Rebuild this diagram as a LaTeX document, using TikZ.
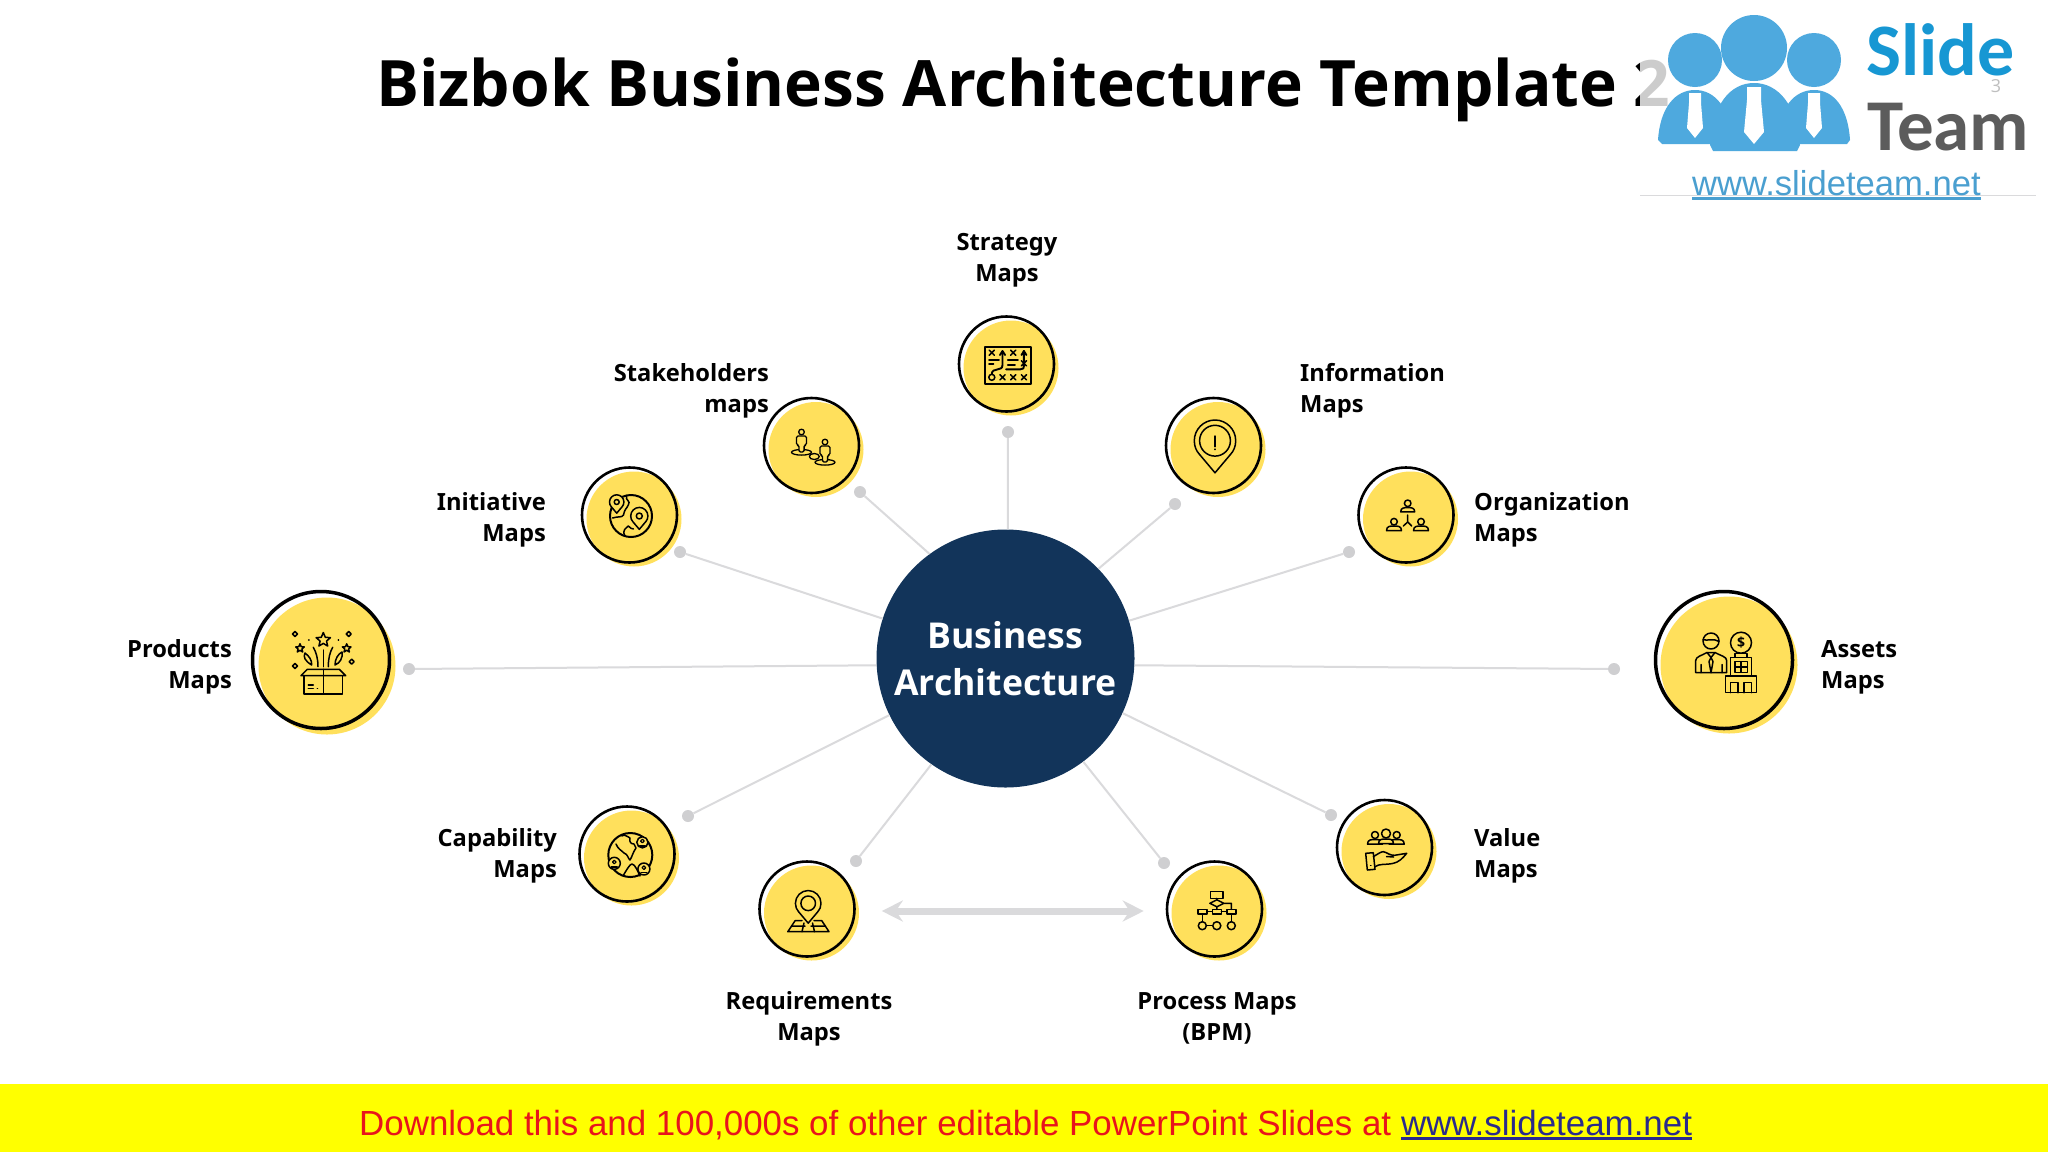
\documentclass[tikz,border=0pt]{standalone}
\usepackage{fontspec}
\setmainfont{Open Sans}[RawFeature={+ss01}]
\newfontfamily\arialfont{Liberation Sans}
\newfontfamily\logofont{Carlito}
\usetikzlibrary{positioning,arrows.meta}
\definecolor{mapyellow}{HTML}{FFE05C}
\definecolor{archblue}{HTML}{12345A}
\definecolor{spokegray}{HTML}{DADADC}
\definecolor{logoblue}{HTML}{4EA9DE}
\definecolor{slideblue}{HTML}{1797D3}
\definecolor{teamgray}{HTML}{5C5C5C}
\definecolor{linkblue}{HTML}{4A9FD0}
\definecolor{bannerred}{HTML}{E8141C}
\definecolor{bannerblue}{HTML}{2A2A8C}
\definecolor{banneryellow}{HTML}{FFFF00}
\tikzset{%
	bigfill/.style={circle, fill=mapyellow, minimum size=137pt, inner sep=0pt},
	bigring/.style={circle, draw=black, line width=3.5pt, minimum size=137pt, inner sep=0pt},
	smallfill/.style={circle, fill=mapyellow, minimum size=95pt, inner sep=0pt},
	smallring/.style={circle, draw=black, line width=2.6pt, minimum size=95pt, inner sep=0pt},
	spokedot/.style={circle, fill=spokegray!95!black, minimum size=12pt, inner sep=0pt},
	spoke/.style={draw=spokegray, line width=2pt},
	maplabel/.style={font=\fontsize{23.7}{31}\selectfont\bfseries, text=black, inner sep=0pt},
	iconline/.style={draw=black, line width=1.5pt, line join=round, line cap=round},
	logotext/.style={inner sep=0pt, anchor=base west}
}
% icon helpers, all in pixels around the ring centre
\newcommand{\pinmark}[3]{%
	\draw[iconline, fill=mapyellow, shift={(#1,#2)}, scale=#3] (0,-1) .. controls (.55,-1) and (1,-.55) .. (1,0) .. controls (1,.28) and (.9,.5) .. (.75,.66) -- (0,1.55) -- (-.75,.66) .. controls (-.9,.5) and (-1,.28) .. (-1,0) .. controls (-1,-.55) and (-.55,-1) .. (0,-1) -- cycle;}
\newcommand{\starmark}[3]{%
	\draw[iconline, shift={(#1,#2)}] (-90:#3) -- (-54:.45*#3) -- (-18:#3) -- (18:.45*#3) -- (54:#3) -- (90:.45*#3) -- (126:#3) -- (162:.45*#3) -- (198:#3) -- (234:.45*#3) -- cycle;}
\newcommand{\sparkmark}[3]{%
	\draw[iconline, shift={(#1,#2)}] (0,-#3) -- (#3,0) -- (0,#3) -- (-#3,0) -- cycle;}
\newcommand{\crossmark}[2]{%
	\draw[iconline, shift={(#1,#2)}] (-2.6,-2.6) -- (2.6,2.6) (-2.6,2.6) -- (2.6,-2.6);}
\newcommand{\bustmark}[4]{% x, y of head, head radius, half width
	\draw[iconline, shift={(#1,#2)}, fill=mapyellow] (0,0) circle (#3pt);
	\draw[iconline, shift={(#1,#2)}, fill=mapyellow] (-#4,#3+#4*.75) .. controls (-#4,#3+1) and (-#4*.5,#3+1) .. (0,#3+1) .. controls (#4*.5,#3+1) and (#4,#3+1) .. (#4,#3+#4*.75) -- cycle;}
\newcommand{\standmark}[2]{% x, y of head
	\draw[iconline, line width=1.3pt, shift={(#1,#2)}] (0,0) circle (2.8pt);
	\draw[iconline, line width=1.3pt, shift={(#1,#2)}] (0,20.3) ellipse [x radius=10pt, y radius=2.8pt];
	\draw[iconline, line width=1.3pt, shift={(#1,#2)}, fill=mapyellow, rounded corners=1.5pt] (-2.6,20) -- (-2.6,13) -- (-5,13) -- (-5,4) -- (5,4) -- (5,13) -- (2.6,13) -- (2.6,20) -- cycle;}
\newcommand{\ulined}[3]{\setbox0\hbox{#3}\rlap{\rule[-#1]{\wd0}{#2}}\box0}
\begin{document}
\begin{tikzpicture}[x=1pt, y=-1pt]
	\useasboundingbox (0,0) rectangle (2048,1152);
	\fill[white] (0,0) rectangle (2048,1152);

	% title, the logo panel goes over its last figure
	\node[font=\fontsize{64}{70}\selectfont\bfseries, anchor=base west, inner sep=0pt] (title) at (376,106) {Bizbok Business Architecture Template 2};

	% hub
	\node[circle, fill=archblue, minimum size=258pt, inner sep=0pt, align=center, text=white, font=\fontsize{35.6}{47}\selectfont\bfseries] (arch) at (1005.5,658.5) {Business\\Architecture};

	% dots
	\node[spokedot] (stratdot) at (1008,432) {};
	\node[spokedot] (stakedot) at (860,492) {};
	\node[spokedot] (infodot) at (1175,504) {};
	\node[spokedot] (initdot) at (680,552) {};
	\node[spokedot] (orgdot) at (1349,552) {};
	\node[spokedot] (proddot) at (409,669) {};
	\node[spokedot] (assetdot) at (1614,669) {};
	\node[spokedot] (capdot) at (688,816) {};
	\node[spokedot] (valdot) at (1331,815) {};
	\node[spokedot] (reqdot) at (856,861) {};
	\node[spokedot] (procdot) at (1164,863) {};

	% spokes
	\draw[spoke] (stratdot) -- (arch.89);
	\draw[spoke] (stakedot) -- (arch.126);
	\draw[spoke] (infodot) -- (arch.44);
	\draw[spoke] (initdot) -- (arch.162);
	\draw[spoke] (orgdot) -- (arch.17);
	\draw[spoke] (proddot) -- (arch.183);
	\draw[spoke] (assetdot) -- (arch.357);
	\draw[spoke] (capdot) -- (arch.206);
	\draw[spoke] (valdot) -- (arch.335);
	\draw[spoke] (reqdot) -- (arch.235);
	\draw[spoke] (procdot) -- (arch.307);

	% circles
	\node[bigfill] (prodfill) at (327,666) {};
	\node[bigring] (prod) at (321,660) {};
	\node[bigfill] (assetfill) at (1729,665) {};
	\node[bigring] (asset) at (1724,660) {};
	\node[smallfill] (stratfill) at (1011,368) {};
	\node[smallring] (strat) at (1006.5,364) {};
	\node[smallfill] (stakefill) at (816,449.5) {};
	\node[smallring] (stake) at (811.5,445.5) {};
	\node[smallfill] (infofill) at (1218,449.5) {};
	\node[smallring] (info) at (1213.5,445.5) {};
	\node[smallfill] (initfill) at (634,519) {};
	\node[smallring] (init) at (629.5,515) {};
	\node[smallfill] (orgfill) at (1410.5,519) {};
	\node[smallring] (org) at (1406,515) {};
	\node[smallfill] (capfill) at (631.5,858) {};
	\node[smallring] (cap) at (627,854) {};
	\node[smallfill] (valfill) at (1389,851.5) {};
	\node[smallring] (val) at (1384.5,847.5) {};
	\node[smallfill] (reqfill) at (811.5,913) {};
	\node[smallring] (req) at (807,909) {};
	\node[smallfill] (procfill) at (1219,913) {};
	\node[smallring] (proc) at (1214.5,909) {};

	% arrow between the two lower circles
	\draw[{Stealth[length=21pt,width=21pt,inset=7pt]}-{Stealth[length=21pt,width=21pt,inset=7pt]}, draw=spokegray, line width=7pt, shorten <=26pt, shorten >=22pt] ([yshift=-2pt]req.east) -- ([yshift=-2pt]proc.west);

	% labels
	\node[maplabel, align=center] (stratlabel) at (1007,260) {Strategy\\Maps};
	\node[maplabel, align=right, anchor=east] (stakelabel) at (769,391) {Stakeholders\\maps};
	\node[maplabel, align=left, anchor=west] (infolabel) at (1300,391) {Information\\Maps};
	\node[maplabel, align=right, anchor=east] (initlabel) at (546,520) {Initiative\\Maps};
	\node[maplabel, align=left, anchor=west] (orglabel) at (1474,520) {Organization\\Maps};
	\node[maplabel, align=right, anchor=east] (prodlabel) at (232,667) {Products\\Maps};
	\node[maplabel, align=left, anchor=west] (assetlabel) at (1821,667) {Assets\\Maps};
	\node[maplabel, align=right, anchor=east] (caplabel) at (557,856) {Capability\\Maps};
	\node[maplabel, align=left, anchor=west] (vallabel) at (1474,856) {Value\\Maps};
	\node[maplabel, align=center] (reqlabel) at (809,1019) {Requirements\\Maps};
	\node[maplabel, align=center] (proclabel) at (1217,1018) {Process Maps\\(BPM)};

	% gift box
	\begin{scope}[shift={(321,660)}]
		\draw[iconline] (-17,15.7) rectangle (21.7,34);
		\draw[iconline] (-20,15.7) -- (-13.7,9.3) -- (18.3,9.3) -- (24.7,15.7) -- cycle;
		\draw[iconline] (2.3,9.3) -- (2.3,34);
		\draw[iconline] (-12.7,25) -- (-7.7,25) (-12.7,28.3) -- (-7.7,28.3) (-3.7,28.3) -- (-3.4,28.3);
		\starmark{2.3}{-20}{7.5}
		\starmark{-21}{-11.7}{4.5}
		\starmark{25.7}{-11.7}{4.5}
		\sparkmark{-26}{-26}{2.5}
		\sparkmark{27.7}{-26}{2.5}
		\sparkmark{-26}{6}{2.5}
		\sparkmark{30.7}{1.7}{2.5}
		\draw[iconline] (-12.3,-20) -- (-12,-20) (17.3,-20) -- (17.6,-20) (2.3,-10) -- (2.3,6.7);
		\draw[iconline] (-3,6.7) .. controls (-3,-2) and (-5,-8) .. (-7.7,-12.7);
		\draw[iconline] (7.3,6.7) .. controls (7.3,-2) and (9,-8) .. (11.7,-12.7);
		\draw[iconline] (-9.3,5) .. controls (-16,1) and (-18,-3) .. (-16,-7) .. controls (-12,-4) and (-9,0) .. (-9.3,5);
		\draw[iconline] (14,5) .. controls (14,-1) and (17,-6) .. (21,-8) .. controls (22,-2) and (19,3) .. (14,5);
	\end{scope}

	% strategy board
	\begin{scope}[shift={(1006.5,364)}]
		\draw[iconline, line width=2.2pt] (-21.5,-17.3) rectangle (24.2,20);
		\crossmark{-14.7}{-11.3}
		\crossmark{6.7}{-11.3}
		\crossmark{17.4}{-0.7}
		\crossmark{-4}{13.3}
		\crossmark{6.7}{13.3}
		\crossmark{17.4}{13.3}
		\draw[iconline] (-14.7,13.3) circle (3pt);
		\draw[iconline, line width=1.9pt] (-14.7,10) .. controls (-14.7,3) and (-4,8) .. (-4,1) -- (-4,-12);
		\draw[iconline, line width=1.9pt] (-6.5,-9) -- (-4,-13) -- (-1.5,-9);
		\draw[iconline, line width=1.9pt] (-0.5,5.3) -- (14,5.3) .. controls (17,5.3) and (17.4,4) .. (17.4,2) -- (17.4,-13);
		\draw[iconline, line width=1.9pt] (15,-9) -- (17.4,-13) -- (19.9,-9);
		\draw[iconline, line width=1.9pt] (-17.5,-4) -- (-7.5,-4) (-17.5,0) -- (-13,0) (1.4,-4) -- (11.4,-4) (1.4,1) -- (8.5,1);
	\end{scope}

	% stakeholders
	\begin{scope}[shift={(811.5,445.5)}]
		\draw[iconline, line width=1.3pt] (2.8,11) ellipse [x radius=5pt, y radius=3pt];
		\standmark{-10}{-13.5}
		\standmark{13.5}{-3.5}
	\end{scope}

	% information pin
	\begin{scope}[shift={(1213.5,445.5)}]
		\pinmark{1.5}{-4.8}{20.7}
		\draw[iconline] (1.5,-4.8) circle (15.4pt);
		\draw[iconline] (1.5,-9.5) -- (1.5,1.2) (1.5,3.6) -- (1.5,4);
	\end{scope}

	% globe with two pins
	\begin{scope}[shift={(629.5,515)}]
		\draw[iconline, line width=2pt] (1.5,1) circle (21pt);
		\draw[iconline] (-2.8,-19) .. controls (-5,-15) and (2,-14) .. (-1.2,-10) .. controls (-3,-6) and (-5,-6) .. (-6,0) .. controls (-8,3) and (-11,1) .. (-17,3);
		\draw[iconline] (-4.5,21) .. controls (-8,15) and (-3,13) .. (-1.2,11) .. controls (1,12) and (2,15) .. (4,14);
		\pinmark{-12.8}{-13}{7.2}
		\draw[iconline] (-12.8,-13) circle (2.5pt);
		\pinmark{9.8}{1}{8.6}
		\draw[iconline] (9.8,1) circle (3pt);
	\end{scope}

	% organization
	\begin{scope}[shift={(1406,515)}]
		\bustmark{1.7}{-11.7}{3.3}{7}
		\bustmark{-12}{6.7}{3.3}{7.5}
		\bustmark{15}{6.7}{3.3}{7.5}
		\draw[iconline] (1.7,0) -- (1.7,7) -- (-2.7,11) (1.7,7) -- (5.7,11);
	\end{scope}

	% assets
	\begin{scope}[shift={(1724,660.5)}]
		\draw[iconline] (-13,-19.5) circle (8pt);
		\draw[iconline] (-21,-21) .. controls (-17,-19) and (-11,-23) .. (-5,-19);
		\draw[iconline] (-28.3,12.2) -- (-28.3,0) .. controls (-28.3,-4) and (-22,-5) .. (-17,-8) -- (-9,-8) .. controls (-4,-5) and (2.7,-4) .. (2.7,0) -- (2.7,12.2) -- cycle;
		\draw[iconline] (-17,-8) -- (-13,-3) -- (-9,-8) (-13,-3) -- (-15,1) -- (-13,12.2) -- (-11,1) -- (-13,-3) (-23,4) -- (-23,12.2) (-2,4) -- (-2,12.2);
		\draw[iconline] (17,-17.8) circle (10.5pt);
		\node[font=\fontsize{14}{14}\selectfont\bfseries, inner sep=0pt] (coin) at (17,-17.8) {\$};
		\draw[iconline] (11,-7.2) rectangle (23,-3) (6.7,-3) rectangle (27.7,15.5);
		\draw[iconline] (11,1.2) rectangle (23.3,11.8) (17.1,1.2) -- (17.1,11.8) (11,6.5) -- (23.3,6.5);
		\draw[iconline] (1.7,15.5) rectangle (32.7,32.2);
		\draw[iconline] (6.5,32.2) -- (6.5,22) -- (14,22) -- (14,32.2) (20,32.2) -- (20,22) -- (27.5,22) -- (27.5,32.2);
	\end{scope}

	% value
	\begin{scope}[shift={(1384.5,847.5)}]
		\bustmark{-9.5}{-12.5}{3.5}{7.5}
		\bustmark{12.2}{-12.5}{3.5}{7.5}
		\bustmark{1.5}{-14}{4.5}{7.5}
		\draw[iconline] (-18.8,5.8) -- (-11.2,5.2) -- (-9.5,21.8) -- (-17.2,22.5) -- cycle;
		\draw[iconline] (-11.2,9.2) .. controls (-6,6) and (-3,4) .. (-1.2,4.2) .. controls (3,5) and (5,8) .. (10,7.8) -- (22.2,5.8) .. controls (18,11) and (14,15) .. (8,16) .. controls (0,17.5) and (-5,16) .. (-9.5,19.2);
		\draw[iconline] (2,9) -- (9,9.5);
		\draw[iconline] (-14,17.8) -- (-13.6,17.8);
	\end{scope}

	% globe with people
	\begin{scope}[shift={(627,854)}]
		\draw[iconline, line width=2pt] (3.3,1) circle (22pt);
		\draw[iconline] (-11,-10) .. controls (-9,-5) and (-6,-4) .. (-3,-1) .. controls (1,0) and (1,5) .. (3,6) .. controls (5,3) and (6,-2) .. (9,-6) -- (7,-10) .. controls (4,-10) and (2,-12) .. (3,-16) .. controls (0,-18) and (-4,-20) .. (-5,-18);
		\draw[iconline] (-4,22) .. controls (0,15) and (3,10) .. (5,10) .. controls (8,10) and (11,18) .. (13,22);
		\draw[iconline, fill=mapyellow] (15.4,-11.7) circle (5.6pt) (-12.7,9.3) circle (6pt) (16.9,15) circle (6pt);
		\draw[iconline, line width=1.2pt] (15.4,-13) circle (1.8pt) (-12.7,8) circle (1.8pt) (16.9,13.7) circle (1.8pt);
		\draw[iconline, line width=1.2pt] (12.4,-8) -- (18.4,-8) (-15.7,13) -- (-9.7,13) (13.9,18.7) -- (19.9,18.7);
	\end{scope}

	% location on a map
	\begin{scope}[shift={(807,909)}]
		\pinmark{1.2}{-5.7}{12.8}
		\draw[iconline] (1.2,-5.7) circle (7.3pt);
		\draw[iconline] (-5,11.7) -- (-11.9,11.7) -- (-19.2,22.7) -- (22,22.7) -- (14.8,11.7) -- (7,11.7);
		\draw[iconline] (-15.5,17) -- (-2,17) (4,17) -- (18.4,17) (-5,22.7) -- (-3,14) (7.5,22.7) -- (5.5,14);
	\end{scope}

	% process chart
	\begin{scope}[shift={(1214.5,909)}]
		\draw[iconline] (-4,-17.3) rectangle (8.6,-10.7);
		\draw[iconline] (2.3,-10.7) -- (2.3,-9.2) (-4.7,-5.7) -- (2.3,-9.2) -- (9.3,-5.7) -- (2.3,-2.2) -- cycle (2.3,-2.2) -- (2.3,.3) (9.3,-5.7) -- (16.8,-5.7) -- (16.8,.3);
		\draw[iconline] (-16.7,.3) rectangle (-7.7,5) (-2.2,.3) rectangle (6.8,5) (12.3,.3) rectangle (21.3,5);
		\draw[iconline] (-7.7,2.6) -- (-2.2,2.6) (6.8,2.6) -- (12.3,2.6) (-12.2,5) -- (-12.2,12.7) (16.8,5) -- (16.8,12.7) (-7.7,16.7) -- (-2.2,16.7);
		\draw[iconline] (-12.2,16.7) circle (4pt) (2.3,16.7) circle (4pt) (16.8,16.7) circle (4pt);
	\end{scope}

	% logo panel
	\fill[white, opacity=.8] (1640,0) rectangle (2048,195);
	\draw[spokegray, line width=1pt] (1640,195) -- (2036,195);
	\fill[logoblue] (1658,140) .. controls (1660,108) and (1675,90) .. (1695,90) .. controls (1715,90) and (1730,108) .. (1732,140) -- (1730,144) -- (1662,144) -- cycle;
	\fill[logoblue] (1777,140) .. controls (1779,108) and (1794,90) .. (1814,90) .. controls (1834,90) and (1848,108) .. (1850,140) -- (1847,144) -- (1780,144) -- cycle;
	\fill[logoblue] (1695,60) circle (27pt) (1814,60) circle (27pt);
	\fill[logoblue] (1754,48) circle (33pt);
	\fill[logoblue] (1710,145) .. controls (1712,105) and (1730,83) .. (1754,83) .. controls (1778,83) and (1797,105) .. (1800,145) -- (1797,151) -- (1713,151) -- cycle;
	\fill[white] (1689,93) -- (1701,93) -- (1701,103) -- (1703,128) -- (1695,138) -- (1687,128) -- (1689,103) -- cycle;
	\fill[white] (1747,87) -- (1761,87) -- (1761,100) -- (1764,132) -- (1754,144) -- (1744,132) -- (1747,100) -- cycle;
	\fill[white] (1808,93) -- (1820,93) -- (1820,103) -- (1822,128) -- (1814,138) -- (1806,128) -- (1808,103) -- cycle;
	\node[logotext, font=\logofont\fontsize{74}{74}\selectfont\bfseries, text=slideblue] (slidetext) at (1866,75) {Slide};
	\node[logotext, font=\logofont\fontsize{73}{73}\selectfont\bfseries, text=teamgray] (teamtext) at (1867,150) {Team};
	\node[logotext, font=\arialfont\fontsize{34.6}{36}\selectfont, text=linkblue] (logolink) at (1692,195) {\ulined{5pt}{3pt}{www.slideteam.net}};
	\node[font=\fontsize{18}{18}\selectfont, text=black!25, inner sep=0pt] (pagenum) at (1996,86) {3};

	% banner
	\fill[banneryellow] (0,1084) rectangle (2048,1152);
	\node[logotext, font=\arialfont\fontsize{34.9}{36}\selectfont, text=bannerred] (bannertext) at (359,1135) {Download this and 100,000s of other editable PowerPoint Slides at \textcolor{bannerblue}{\ulined{5pt}{3pt}{www.slideteam.net}}};
\end{tikzpicture}
\end{document}
